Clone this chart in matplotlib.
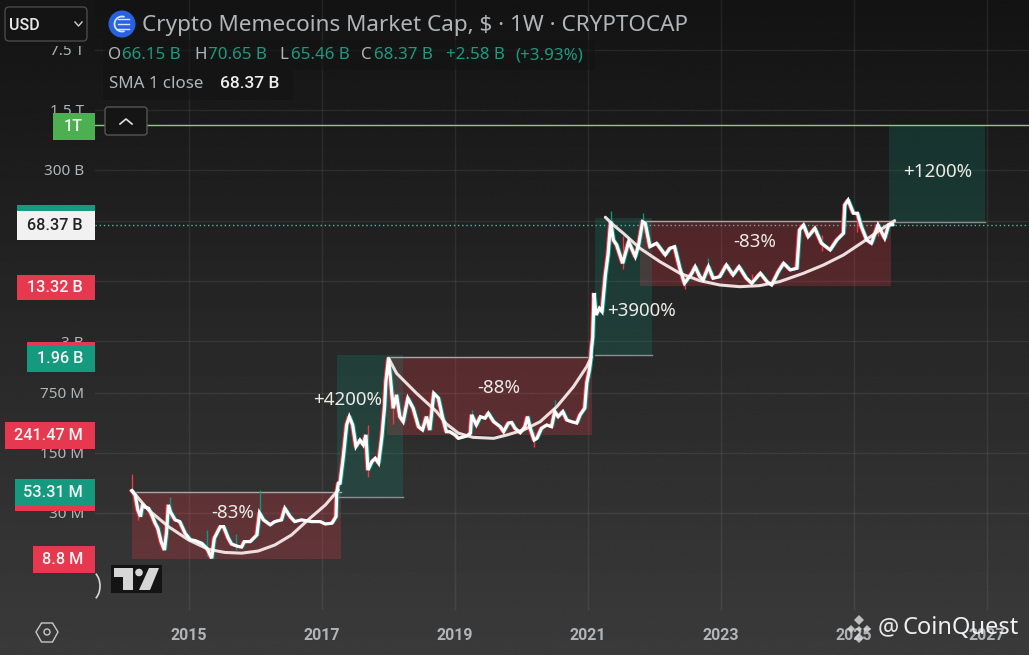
import numpy as np
import matplotlib
matplotlib.use("Agg")
from matplotlib import pyplot as plt
from matplotlib import transforms
from matplotlib.patches import Rectangle, FancyBboxPatch, Circle, Polygon, Arc

plt.rcParams['font.family'] = ['Noto Sans', 'DejaVu Sans']

# weekly close, years and millions of USD
price_years = [2014.14, 2014.19, 2014.23, 2014.27, 2014.30, 2014.34, 2014.39, 2014.44, 2014.49, 2014.53, 2014.58, 2014.63,
               2014.66, 2014.69, 2014.72, 2014.79, 2014.86, 2014.94, 2015.02, 2015.09, 2015.19, 2015.27, 2015.34, 2015.38,
               2015.47, 2015.52, 2015.59, 2015.64, 2015.74, 2015.79, 2015.83, 2015.92, 2016.02, 2016.06, 2016.12, 2016.22,
               2016.29, 2016.39, 2016.44, 2016.52, 2016.59, 2016.69, 2016.84, 2016.97, 2017.05, 2017.15, 2017.21, 2017.22,
               2017.245, 2017.27, 2017.32, 2017.37, 2017.41, 2017.46, 2017.51, 2017.57, 2017.62, 2017.66, 2017.69, 2017.75,
               2017.80, 2017.85, 2017.90, 2017.94, 2017.96, 2018.00, 2018.03, 2018.07, 2018.12, 2018.17, 2018.22, 2018.29,
               2018.37, 2018.45, 2018.51, 2018.57, 2018.62, 2018.68, 2018.75, 2018.81, 2018.87, 2018.92, 2019.00, 2019.05,
               2019.18, 2019.23, 2019.25, 2019.32, 2019.38, 2019.45, 2019.50, 2019.58, 2019.68, 2019.73, 2019.80, 2019.85,
               2019.90, 2019.98, 2020.05, 2020.09, 2020.13, 2020.19, 2020.23, 2020.30, 2020.38, 2020.45, 2020.50, 2020.55,
               2020.62, 2020.68, 2020.75, 2020.83, 2020.88, 2020.95, 2020.98, 2021.02, 2021.04, 2021.05, 2021.07, 2021.09,
               2021.12, 2021.17, 2021.21, 2021.26, 2021.30, 2021.34, 2021.38, 2021.43, 2021.52, 2021.61, 2021.71, 2021.76,
               2021.82, 2021.86, 2021.93, 2022.03, 2022.16, 2022.23, 2022.30, 2022.38, 2022.45, 2022.56, 2022.61, 2022.68,
               2022.73, 2022.81, 2022.88, 2022.98, 2023.08, 2023.18, 2023.27, 2023.38, 2023.46, 2023.59, 2023.69, 2023.76,
               2023.86, 2023.94, 2024.04, 2024.14, 2024.18, 2024.24, 2024.31, 2024.41, 2024.51, 2024.64, 2024.74, 2024.84,
               2024.86, 2024.91, 2024.99, 2025.05, 2025.11, 2025.19, 2025.26, 2025.36, 2025.46, 2025.52, 2025.58]
price_values = [54.6, 48.6, 32.5, 27.2, 37.2, 35, 34, 28.4, 22.8, 19.9, 13.9, 11.1,
                17.4, 37.2, 31, 24.9, 23.8, 17.4, 14.6, 14.3, 13.3, 11.6, 8.9, 15.2,
                20.8, 20.8, 15.2, 13, 12.2, 12, 13.9, 13.9, 16.6, 30, 24.9, 21.8,
                23.8, 24.9, 34, 27.2, 23.8, 24.9, 23.8, 23.8, 22.3, 22.8, 27.2, 50.9,
                66.5, 66.5, 136, 318, 397, 318, 178, 212, 186, 243, 95, 119,
                130, 114, 232, 519, 1017, 1905, 1059, 498, 712, 397, 347, 652,
                498, 303, 278, 397, 278, 744, 652, 397, 265, 265, 243, 222,
                237, 255, 417, 318, 397, 381, 436, 347, 303, 265, 334, 340,
                291, 258, 303, 397, 291, 212, 222, 291, 318, 303, 456, 397,
                456, 363, 347, 334, 417, 498, 975, 1387, 1820, 2382, 3360, 10860,
                6080, 7280, 6640, 17770, 30400, 74280, 45450, 39750, 24330, 43400, 29040, 39750,
                74280, 71130, 37970, 41590, 30400, 36380, 37970, 21280, 14220, 18610, 22200, 16980,
                15560, 22200, 16270, 16980, 23240, 17770, 22200, 16270, 14220, 18610, 14860, 13590,
                19420, 24330, 20340, 21280, 59450, 67950, 49680, 62220, 41590, 34770, 45450, 54370,
                116190, 132900, 93050, 93050, 64920, 45450, 41590, 67950, 47580, 67950, 68370]

# thin candle wicks that stick out of the line
wick_years = [2014.14, 2014.23, 2014.72, 2015.27, 2015.70, 2016.06, 2017.69, 2018.07, 2019.25, 2020.19, 2020.50,
              2020.98, 2021.34, 2021.52, 2021.82, 2022.45, 2022.81, 2023.46, 2024.51, 2025.05, 2025.36]
wick_lows = [48, 25, 26, 9.5, 11, 24, 78, 330, 300, 175, 380, 650, 60000, 21000, 60000, 12200, 18000, 12800, 34000, 56000, 50000]
wick_highs = [86, 45, 46, 19, 17, 55, 320, 820, 480, 260, 620, 1100, 98000, 50000, 94000, 17000, 28000, 18000, 52000, 100000, 76000]
wick_colors = ['#f23645', '#f23645', '#089981', '#089981', '#089981', '#089981', '#f23645', '#f23645', '#089981', '#f23645',
               '#089981', '#f23645', '#089981', '#f23645', '#089981', '#f23645', '#089981', '#f23645', '#f23645', '#f23645', '#f23645']

# hand drawn cups
cup1_years = [2014.14, 2014.39, 2014.69, 2014.99, 2015.29, 2015.54, 2015.79, 2016.04, 2016.29, 2016.54, 2016.79, 2017.05, 2017.245]
cup1_values = [54.6, 32.5, 20.8, 14.6, 11.3, 10.4, 10.2, 10.8, 12.7, 16.6, 24.9, 37.2, 55.6]
cup2_years = [2018.00, 2018.12, 2018.42, 2018.72, 2018.87, 2019.05, 2019.27, 2019.58, 2019.78, 2020.03, 2020.28, 2020.53, 2020.78, 2020.98, 2021.05]
cup2_values = [1905, 1273, 744, 456, 327, 255, 228, 222, 243, 278, 347, 519, 887, 1519, 1980]
cup3_years = [2021.26, 2021.38, 2021.53, 2021.78, 2022.08, 2022.38, 2022.68, 2022.98, 2023.28, 2023.58, 2023.88, 2024.24, 2024.54, 2024.84, 2025.14, 2025.39, 2025.61]
cup3_values = [83580, 67950, 54370, 36380, 25400, 18610, 15250, 13590, 12980, 13350, 14860, 18610, 23240, 30400, 43400, 59450, 76230]

# measure boxes: start year, end year, low, high (millions)
red_boxes = [(2014.14, 2017.28, 8.8, 53.31), (2017.98, 2021.06, 241.47, 1960), (2021.78, 2025.56, 13320, 76230)]
green_boxes = [(2017.23, 2018.22, 45.6, 2050), (2021.10, 2021.96, 2085, 81330), (2025.53, 2026.97, 74000, 1000000)]

pct_texts = ['-83%', '+4200%', '-88%', '+3900%', '-83%', '+1200%']
pct_years = [2015.65, 2017.39, 2019.65, 2021.81, 2023.50, 2026.26]
pct_values = [30, 621, 862, 6780, 43200, 282000]

year_ticks = [2015, 2017, 2019, 2021, 2023, 2025, 2027]
price_ticks = [30, 150, 750, 3000, 15000, 75000, 300000, 1500000, 7500000]
# 15 B and 75 B sit behind the price pills
price_labels = ['30 M', '150 M', '750 M', '3 B', '', '', '300 B', '1.5 T', '7.5 T']

last_close = 68370
target = 1000000

fig = plt.figure(figsize=(10.29, 6.55), dpi=100)

# background gradient
bg = fig.add_axes([0, 0, 1, 1], zorder=0)
bg.axis('off')
grad = np.linspace(0.075, 0.23, 256).reshape(-1, 1)
bg.imshow(grad, cmap='gray', vmin=0, vmax=1, aspect='auto', extent=[0, 1, 0, 1])

# main chart, log scale
ax = fig.add_axes([95 / 1029, 45 / 655, 934 / 1029, 610 / 655], zorder=1)
ax.patch.set_alpha(0)
ax.set_yscale('log')
ax.set_xlim(2013.586, 2027.63)
ax.set_ylim(2.22, 2.84e7)
for s in ax.spines.values():
    s.set_visible(False)
ax.set_xticks(year_ticks, [str(y) for y in year_ticks])
ax.set_yticks(price_ticks, price_labels)
ax.minorticks_off()
ax.tick_params(axis='x', length=0, pad=13, labelcolor='#b2b5b8')
for t in ax.get_xticklabels():
    t.set_family('Roboto')
    t.set_fontweight('bold')
    t.set_fontsize(11.5)
ax.tick_params(axis='y', length=0, pad=8, labelsize=11, labelcolor='#b2b5b8')
ax.grid(True, color='#ffffff', alpha=0.07, linewidth=1)
ax.set_axisbelow(True)

for x0, x1, lo, hi in red_boxes:
    ax.fill_between([x0, x1], lo, hi, color='#f23645', alpha=0.24, linewidth=0, zorder=2)
    ax.plot([x0, x1], [hi, hi], color='#a8a8a8', lw=1, zorder=2.1)
for x0, x1, lo, hi in green_boxes:
    ax.fill_between([x0, x1], lo, hi, color='#089981', alpha=0.2, linewidth=0, zorder=2)
    ax.plot([x0, x1], [lo, lo], color='#8a8f8e', lw=1, zorder=2.1)

ax.axhline(target, color='#86cf8a', lw=1, zorder=2.5)
ax.axhline(last_close, color='#4fb89f', lw=1, ls=(0, (1, 2)), zorder=2.5)

ax.vlines(wick_years, wick_lows, wick_highs, colors=wick_colors, lw=1, zorder=3)

# price line with the red / teal fringe of the candles
teal_tr = transforms.offset_copy(ax.transData, fig=fig, x=1.5, y=0, units='dots')
red_tr = transforms.offset_copy(ax.transData, fig=fig, x=-1.5, y=0, units='dots')
ax.plot(price_years, price_values, color='#089981', lw=1.6, transform=teal_tr, zorder=3.1)
ax.plot(price_years, price_values, color='#f23645', lw=1.6, transform=red_tr, zorder=3.1)
for yrs, vals in [(cup1_years, cup1_values), (cup2_years, cup2_values), (cup3_years, cup3_values)]:
    ax.plot(yrs, vals, color='#eedede', lw=2.2, solid_joinstyle='round', solid_capstyle='round', zorder=3.2)
ax.plot(price_years, price_values, color='#ffffff', lw=2.3, solid_joinstyle='miter', zorder=3.3)

for s, yr, v in zip(pct_texts, pct_years, pct_values):
    ax.text(yr, v, s, color='#ecebe6', fontsize=13.5, ha='center', va='center', zorder=4)

# tradingview chrome on top, in pixels
ui = fig.add_axes([0, 0, 1, 1], zorder=2)
ui.patch.set_alpha(0)
ui.axis('off')
ui.set_xlim(0, 1029)
ui.set_ylim(655, 0)


def pill(x0, y0, x1, y1, color, text, text_color='#f4f4f4'):
    ui.add_patch(Rectangle((x0, y0), x1 - x0, y1 - y0, color=color, lw=0))
    ui.text(x1 - 12, (y0 + y1) / 2, text, color=text_color, fontsize=11.7, ha='right', va='center',
            family='Roboto', fontweight='medium')


ui.add_patch(Rectangle((0, 0), 95, 46, color='#151515', lw=0))
ui.add_patch(Rectangle((103, 40), 492, 30, color='#131313', alpha=0.55, lw=0))
ui.add_patch(Rectangle((103, 70), 190, 30, color='#131313', alpha=0.55, lw=0))

ui.add_patch(FancyBboxPatch((5, 7), 82, 34, boxstyle='round,pad=0,rounding_size=4', fc='#141414', ec='#4a4a4a', lw=1))
ui.text(9, 25, 'USD', color='#e8e8e8', fontsize=11.5, va='center', family='Roboto', fontweight='medium')
ui.plot([75, 78.5, 82], [22, 26, 22], color='#d0d0d0', lw=1)

ui.add_patch(Circle((122, 24), 13.5, color='#2962e0', lw=0))
for dy in (-5, 0, 5):
    ui.plot([118, 129], [24 + dy, 24 + dy], color='#d8e4ff', lw=1)
ui.add_patch(Arc((122, 24), 15, 15, theta1=70, theta2=290, color='#d8e4ff', lw=1.3))

ui.text(142, 25, 'Crypto Memecoins Market Cap, $ · 1W · CRYPTOCAP', color='#b2b5b8', fontsize=16.2, va='center')

hdr_gray = ['O', 'H', 'L', 'C']
hdr_gray_x = [108, 194, 279, 361]
hdr_vals = ['66.15 B', '70.65 B', '65.46 B', '68.37 B', '+2.58 B', '(+3.93%)']
hdr_vals_x = [122, 208, 291, 374, 446, 515]
for s, x in zip(hdr_gray, hdr_gray_x):
    ui.text(x, 55, s, color='#b2b5b8', fontsize=12.2, va='center')
for s, x in zip(hdr_vals, hdr_vals_x):
    ui.text(x, 55, s, color='#1c9a80', fontsize=12.2, va='center')
ui.text(109, 84, 'SMA 1 close', color='#b2b5b8', fontsize=12.2, va='center')
ui.text(220, 84, '68.37 B', color='#eeeeee', fontsize=12.5, va='center', family='Roboto', fontweight='medium')

ui.add_patch(FancyBboxPatch((105, 107), 42, 28, boxstyle='round,pad=0,rounding_size=3', fc='#151515', ec='#555555', lw=1))
ui.plot([120, 126, 132], [124, 119, 124], color='#e0e0e0', lw=1.2)

pill(53, 113, 95, 140, '#4caf50', '1T')
ui.add_patch(Rectangle((17, 205), 78, 7, color='#159a80', lw=0))
pill(17, 211, 95, 240, '#f1f1f1', '68.37 B', '#222222')
pill(17, 275, 95, 300, '#e63950', '13.32 B')
ui.add_patch(Rectangle((27, 342), 68, 4, color='#e63950', lw=0))
pill(27, 345, 95, 372, '#159a80', '1.96 B')
pill(5, 422, 95, 449, '#e63950', '241.47 M')
ui.add_patch(Rectangle((15, 506), 80, 5, color='#e63950', lw=0))
pill(15, 479, 95, 506, '#159a80', '53.31 M')
pill(33, 546, 95, 573, '#e63950', '8.8 M')

# tv logo
ui.add_patch(Rectangle((111, 565), 51, 28, color='#141414', lw=0))
ui.add_patch(Polygon([(114, 568), (133, 568), (133, 590), (123, 590), (123, 577), (114, 577)], color='#d6d6d6', lw=0))
ui.add_patch(Circle((139, 572.5), 3.8, color='#d6d6d6', lw=0))
ui.add_patch(Polygon([(149, 568), (159, 568), (150, 590), (139, 590)], color='#d6d6d6', lw=0))
ui.add_patch(Arc((90, 586), 20, 30, theta1=-65, theta2=65, color='#d8d8d8', lw=1.2))

# settings hexagon
ui.add_patch(Polygon([(36, 632), (41.5, 623), (52.5, 623), (58, 632), (52.5, 642), (41.5, 642)], fc='none', ec='#c8c8c8', lw=1))
ui.add_patch(Circle((47, 632), 3, fc='none', ec='#c8c8c8', lw=1))

# watermark
for cx, cy, r in [(859, 620, 5), (859, 638, 5), (851, 629, 4), (867, 629, 4), (859, 629, 3)]:
    ui.add_patch(Polygon([(cx - r, cy), (cx, cy - r), (cx + r, cy), (cx, cy + r)], color='#d6d6d6', alpha=0.85, lw=0))
ui.text(878, 628, '@', color='#e8e8e8', fontsize=17, va='center')
ui.text(903, 628, 'CoinQuest', color='#f0f0f0', fontsize=17, va='center')

fig.savefig('out.png', dpi=100)
